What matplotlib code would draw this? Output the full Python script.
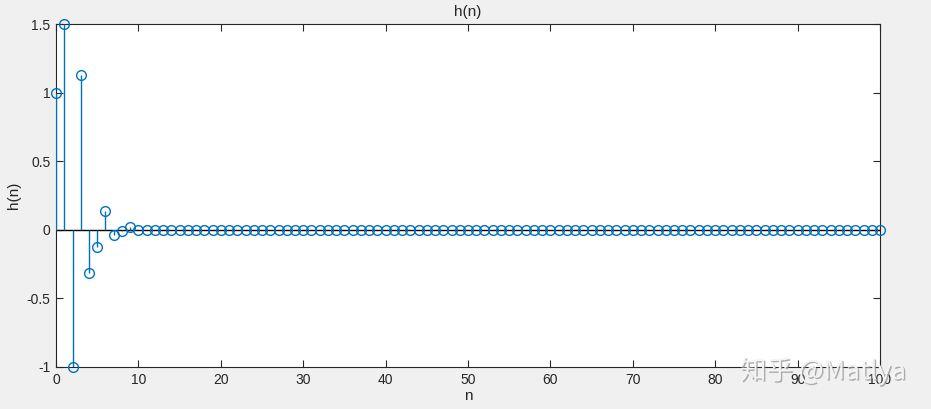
import numpy as np
import matplotlib.pyplot as plt
import matplotlib.patheffects as pe
from matplotlib.ticker import MultipleLocator

plt.rcParams.update({
    "font.family": ["Liberation Sans", "Noto Sans CJK SC", "DejaVu Sans"],
})

# impulse response values
n = np.arange(0, 101)
h_head = [1.0, 1.5, -1.0, 1.125, -0.3125, -0.125, 0.1406, -0.0391, -0.0107, 0.0171]
h_tail = [0.0] * (len(n) - len(h_head))
h = np.array(h_head + h_tail)

blue = '#0072BD'

fig = plt.figure(figsize=(9.31, 4.09), dpi=100, facecolor='#F0F0F0')
ax = fig.add_axes([0.0602, 0.1027, 0.885, 0.8386])
ax.set_facecolor('white')

ax.axhline(0, color='k', lw=1.0, zorder=2)
ax.vlines(n, 0, h, color=blue, lw=1.0, zorder=3)
ax.plot(n, h, 'o', ms=7, mfc='none', mec=blue, mew=1.0, zorder=4, clip_on=False)

ax.set_xlim(0, 100)
ax.set_ylim(-1, 1.5)
ax.xaxis.set_major_locator(MultipleLocator(10))
ax.yaxis.set_major_locator(MultipleLocator(0.5))
ax.yaxis.set_major_formatter(lambda v, p: f'{v:g}')
ax.tick_params(direction='in', top=True, right=True, length=5, width=0.8,
               labelsize=10, colors='#262626', pad=4)
for spine in ax.spines.values():
    spine.set_linewidth(0.8)
    spine.set_color('#262626')

ax.set_title('h(n)', fontsize=11, color='#262626', pad=6)
ax.set_xlabel('n', fontsize=11, color='#262626', labelpad=2)
ax.set_ylabel('h(n)', fontsize=11, color='#262626', labelpad=4)

# watermark
fig.text(0.884, 0.093, '知乎 @Matlya', fontsize=19, color='#f4f4f4', va='center', ha='center',
         family=['Noto Sans CJK SC', 'DejaVu Sans'], zorder=10,
         path_effects=[pe.withSimplePatchShadow(offset=(1, -1), shadow_rgbFace='#9a9a9a', alpha=0.8)])

plt.savefig('out.png', dpi=100, facecolor=fig.get_facecolor())
